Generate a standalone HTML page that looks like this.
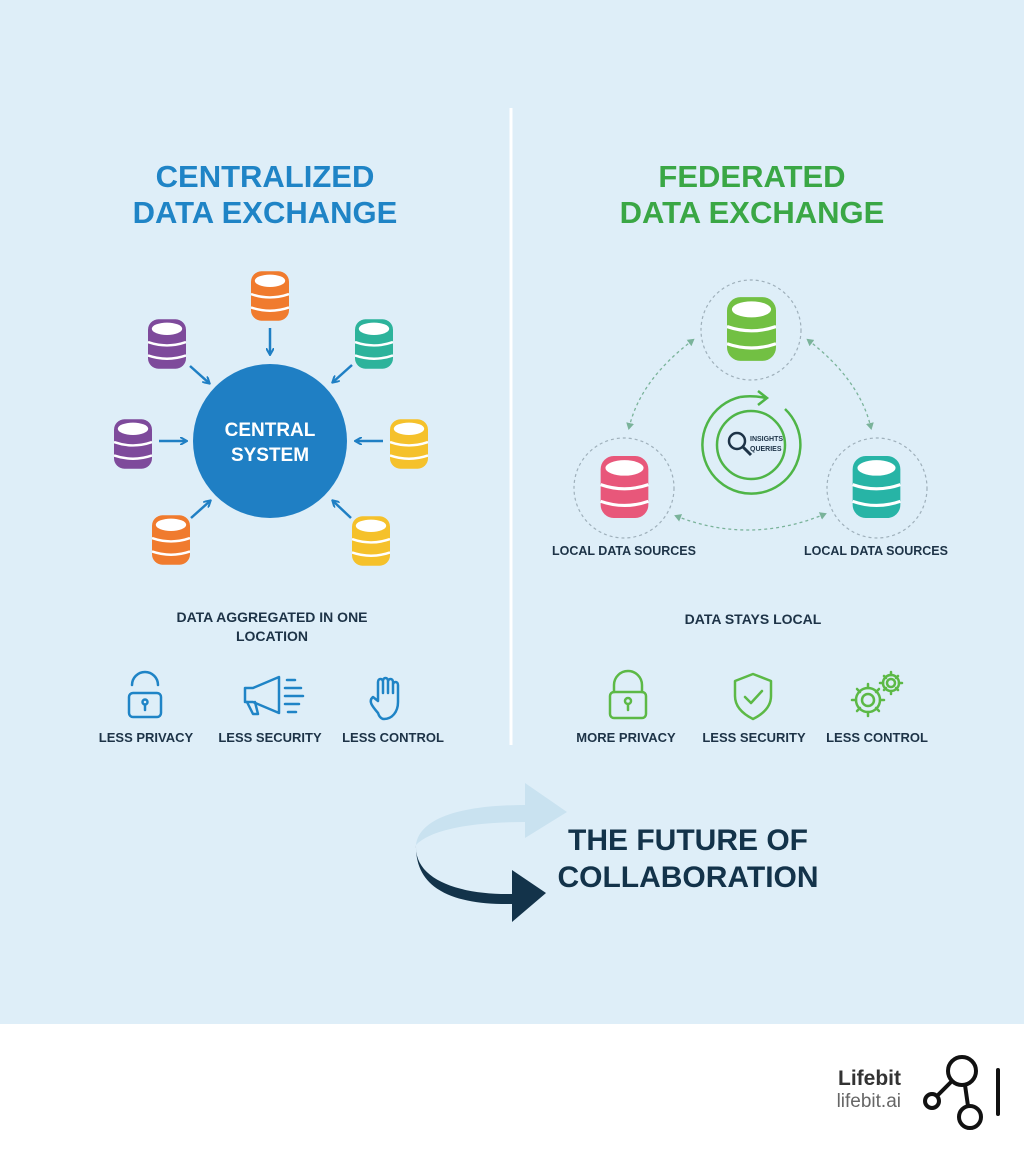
<!DOCTYPE html>
<html><head><meta charset="utf-8"><style>
html,body{margin:0;padding:0;background:#fff}
svg{display:block}
text{font-family:"Liberation Sans",sans-serif;font-weight:bold}
</style></head><body>
<svg width="1024" height="1154" viewBox="0 0 1024 1154" xmlns="http://www.w3.org/2000/svg">
<defs>
<symbol id="db" viewBox="0 0 40 52">
<rect x="0" y="0" width="40" height="52" rx="11" fill="currentColor"/>
<ellipse cx="20" cy="10" rx="16" ry="6.5" fill="#fff"/>
<path d="M0 24 Q20 31 40 24 M0 38 Q20 45 40 38" stroke="#fff" stroke-width="2.6" fill="none"/>
</symbol>
<marker id="ah" markerWidth="8" markerHeight="8" refX="6" refY="4" orient="auto" markerUnits="userSpaceOnUse"><path d="M0 0 L7 4 L0 8" fill="none" stroke="#1f7fc4" stroke-width="2"/></marker>
<marker id="gh" markerWidth="8" markerHeight="8" refX="5" refY="4" orient="auto-start-reverse" markerUnits="userSpaceOnUse"><path d="M0 0 L7 4 L0 8 Z" fill="#7ab39a"/></marker>
</defs>
<rect width="1024" height="1024" fill="#deeef8"/>
<line x1="511" y1="108" x2="511" y2="745" stroke="#fff" stroke-width="3"/>

<text x="265" y="187" font-size="31" fill="#1f84c6" text-anchor="middle">CENTRALIZED</text>
<text x="265" y="223" font-size="31" fill="#1f84c6" text-anchor="middle">DATA EXCHANGE</text>
<text x="752" y="187" font-size="31" fill="#3aa745" text-anchor="middle">FEDERATED</text>
<text x="752" y="223" font-size="31" fill="#3aa745" text-anchor="middle">DATA EXCHANGE</text>

<!-- left -->
<circle cx="270" cy="441" r="77" fill="#1f7fc4"/>
<text x="270" y="436" font-size="19" fill="#fff" text-anchor="middle">CENTRAL</text>
<text x="270" y="461" font-size="19" fill="#fff" text-anchor="middle">SYSTEM</text>
<use href="#db" x="251" y="271" width="38" height="50" color="#f07b2e"/>
<use href="#db" x="148" y="319" width="38" height="50" color="#7e4a9b"/>
<use href="#db" x="355" y="319" width="38" height="50" color="#2db39b"/>
<use href="#db" x="114" y="419" width="38" height="50" color="#7e4a9b"/>
<use href="#db" x="390" y="419" width="38" height="50" color="#f5c12b"/>
<use href="#db" x="152" y="515" width="38" height="50" color="#f07b2e"/>
<use href="#db" x="352" y="516" width="38" height="50" color="#f5c12b"/>
<g stroke="#1f7fc4" stroke-width="2.5" marker-end="url(#ah)">
<line x1="270" y1="328" x2="270" y2="354"/>
<line x1="190" y1="366" x2="209" y2="383"/>
<line x1="352" y1="365" x2="333" y2="382"/>
<line x1="159" y1="441" x2="186" y2="441"/>
<line x1="383" y1="441" x2="356" y2="441"/>
<line x1="191" y1="518" x2="210" y2="501"/>
<line x1="351" y1="518" x2="333" y2="501"/>
</g>
<text x="272" y="622" font-size="14" fill="#1d3347" text-anchor="middle">DATA AGGREGATED IN ONE</text>
<text x="272" y="641" font-size="14" fill="#1d3347" text-anchor="middle">LOCATION</text>
<!-- left icons -->
<g fill="none" stroke="#1f84c6" stroke-width="2.5" stroke-linecap="round" stroke-linejoin="round">
<path d="M132 685 A13 13 0 0 1 158 685"/>
<rect x="129" y="693" width="32" height="24" rx="4"/>
<circle cx="145" cy="702" r="2.5"/><path d="M145 705 V710"/>
<path d="M245 688 H253 L279 677 V713 L253 702 H245 Z"/>
<path d="M247 702 L253 714 H258 L255 702"/>
<path d="M287 680 H295 M285 688 H301 M285 696 H303 M285 704 H299 M288 712 H296"/>
<path d="M378 713 C372 706 368 701 373 697 L378 701 V682 C378 678 383 678 383 682 V693 M383 681 C383 677 388 677 388 681 V693 M388 682 C388 678 393 678 393 682 V693 M393 685 C393 681 398 681 398 685 V702 C398 712 392 719 384 719 C381 719 379 716 378 713"/>
</g>
<text x="146" y="742" font-size="13" fill="#1d3347" text-anchor="middle">LESS PRIVACY</text>
<text x="270" y="742" font-size="13" fill="#1d3347" text-anchor="middle">LESS SECURITY</text>
<text x="393" y="742" font-size="13" fill="#1d3347" text-anchor="middle">LESS CONTROL</text>

<!-- right -->
<g fill="none" stroke="#9fb0bb" stroke-width="1.2" stroke-dasharray="3 3">
<circle cx="751" cy="330" r="50"/>
<circle cx="624" cy="488" r="50"/>
<circle cx="877" cy="488" r="50"/>
</g>
<g fill="none" stroke="#7ab39a" stroke-width="1.3" stroke-dasharray="3 3" marker-start="url(#gh)" marker-end="url(#gh)">
<path d="M693 340 Q640 380 629 428"/>
<path d="M808 340 Q860 380 871 428"/>
<path d="M676 516 Q750 545 825 514"/>
</g>
<use href="#db" x="727" y="297" width="49" height="64" color="#72c043"/>
<use href="#db" x="600" y="456" width="49" height="62" color="#e8577a"/>
<use href="#db" x="852" y="456" width="49" height="62" color="#27b4a6"/>
<circle cx="751" cy="445" r="34" fill="none" stroke="#4fb547" stroke-width="2.5"/>
<path d="M785 409 A49 49 0 1 1 740 397" fill="none" stroke="#4fb547" stroke-width="2.5"/>
<path d="M740 397 Q752 395 766 398 M758 391 L767 398 L758 405" fill="none" stroke="#4fb547" stroke-width="2.5"/>
<circle cx="737" cy="441" r="8" fill="none" stroke="#1d3347" stroke-width="2.5"/>
<line x1="743" y1="447" x2="751" y2="455" stroke="#1d3347" stroke-width="3"/>
<text x="750" y="441" font-size="7" fill="#1d3347">INSIGHTS</text>
<text x="750" y="451" font-size="7" fill="#1d3347">QUERIES</text>
<text x="624" y="555" font-size="12.5" fill="#1d3347" text-anchor="middle">LOCAL DATA SOURCES</text>
<text x="876" y="555" font-size="12.5" fill="#1d3347" text-anchor="middle">LOCAL DATA SOURCES</text>
<text x="753" y="624" font-size="14" fill="#1d3347" text-anchor="middle">DATA STAYS LOCAL</text>
<g fill="none" stroke="#5cb946" stroke-width="2.5" stroke-linecap="round" stroke-linejoin="round">
<path d="M614 692 V685 A14 14 0 0 1 642 685 V692"/>
<rect x="610" y="692" width="36" height="26" rx="4"/>
<circle cx="628" cy="701" r="3"/><path d="M628 704 V710"/>
<path d="M753 674 L771 681 V696 C771 707 763 714 753 719 C743 714 735 707 735 696 V681 Z"/>
<path d="M745 697 L751 703 L762 691"/>
<circle cx="868" cy="700" r="6"/>
<circle cx="868" cy="700" r="12"/>
<path d="M868 684 V688 M868 712 V716 M852 700 H856 M880 700 H884 M857 689 L860 692 M876 708 L879 711 M857 711 L860 708 M876 692 L879 689"/>
<circle cx="891" cy="683" r="4"/>
<circle cx="891" cy="683" r="8"/>
<path d="M891 672 V675 M891 691 V694 M880 683 H883 M899 683 H902 M884 676 L886 678 M896 688 L898 690 M884 690 L886 688 M896 678 L898 676"/>
</g>
<text x="626" y="742" font-size="13" fill="#1d3347" text-anchor="middle">MORE PRIVACY</text>
<text x="754" y="742" font-size="13" fill="#1d3347" text-anchor="middle">LESS SECURITY</text>
<text x="877" y="742" font-size="13" fill="#1d3347" text-anchor="middle">LESS CONTROL</text>

<!-- bottom arrow -->
<path d="M416 845 C420 815 470 805 525 805 L525 783 L567 812 L525 838 L525 822 C470 822 430 830 416 845 Z" fill="#c9e2f0"/>
<path d="M416 845 C414 880 460 895 512 894 L512 870 L546 893 L512 922 L512 904 C455 905 415 890 416 845 Z" fill="#13334a"/>
<text x="688" y="850" font-size="30" fill="#13334a" text-anchor="middle">THE FUTURE OF</text>
<text x="688" y="887" font-size="30" fill="#13334a" text-anchor="middle">COLLABORATION</text>

<!-- logo -->
<text x="901" y="1085" font-size="21" fill="#333" text-anchor="end">Lifebit</text>
<text x="901" y="1107" font-size="19" fill="#666" text-anchor="end" style="font-weight:normal">lifebit.ai</text>
<g fill="none" stroke="#111" stroke-width="4">
<circle cx="962" cy="1071" r="14"/>
<circle cx="932" cy="1101" r="7"/>
<circle cx="970" cy="1117" r="11"/>
<line x1="952" y1="1081" x2="937" y2="1096"/>
<line x1="965" y1="1085" x2="968" y2="1106"/>
<line x1="998" y1="1070" x2="998" y2="1114" stroke-linecap="round"/>
</g>
</svg>
</body></html>
